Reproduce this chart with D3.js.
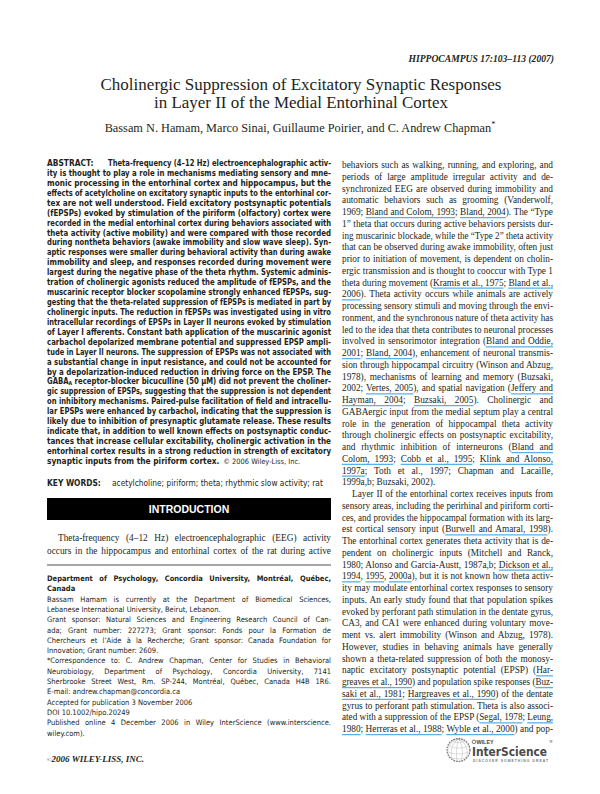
<!DOCTYPE html>
<html>
<head>
<meta charset="utf-8">
<script src="https://cdn.jsdelivr.net/npm/d3@7"></script>
<style>
  body { margin: 0; background: #fff; }
  svg { display: block; }
</style>
</head>
<body>
<svg id="page"></svg>
<script>
// ---- text content, line by line as set on the page ----
const headerText = "HIPPOCAMPUS 17:103–113 (2007)";

const titleLines = [
  "Cholinergic Suppression of Excitatory Synaptic Responses",
  "in Layer II of the Medial Entorhinal Cortex"
];

const authorLine = "Bassam N. Hamam, Marco Sinai, Guillaume Poirier, and C. Andrew Chapman^{*}";

const abstractLabel = "ABSTRACT:";
const abstractLines = [
  "Theta-frequency (4–12 Hz) electroencephalographic activ-",
  "ity is thought to play a role in mechanisms mediating sensory and mne-",
  "monic processing in the entorhinal cortex and hippocampus, but the",
  "effects of acetylcholine on excitatory synaptic inputs to the entorhinal cor-",
  "tex are not well understood. Field excitatory postsynaptic potentials",
  "(fEPSPs) evoked by stimulation of the piriform (olfactory) cortex were",
  "recorded in the medial entorhinal cortex during behaviors associated with",
  "theta activity (active mobility) and were compared with those recorded",
  "during nontheta behaviors (awake immobility and slow wave sleep). Syn-",
  "aptic responses were smaller during behavioral activity than during awake",
  "immobility and sleep, and responses recorded during movement were",
  "largest during the negative phase of the theta rhythm. Systemic adminis-",
  "tration of cholinergic agonists reduced the amplitude of fEPSPs, and the",
  "muscarinic receptor blocker scopolamine strongly enhanced fEPSPs, sug-",
  "gesting that the theta-related suppression of fEPSPs is mediated in part by",
  "cholinergic inputs. The reduction in fEPSPs was investigated using in vitro",
  "intracellular recordings of EPSPs in Layer II neurons evoked by stimulation",
  "of Layer I afferents. Constant bath application of the muscarinic agonist",
  "carbachol depolarized membrane potential and suppressed EPSP ampli-",
  "tude in Layer II neurons. The suppression of EPSPs was not associated with",
  "a substantial change in input resistance, and could not be accounted for",
  "by a depolarization-induced reduction in driving force on the EPSP. The",
  "GABA_{A} receptor-blocker bicuculline (50 μM) did not prevent the choliner-",
  "gic suppression of EPSPs, suggesting that the suppression is not dependent",
  "on inhibitory mechanisms. Paired-pulse facilitation of field and intracellu-",
  "lar EPSPs were enhanced by carbachol, indicating that the suppression is",
  "likely due to inhibition of presynaptic glutamate release. These results",
  "indicate that, in addition to well known effects on postsynaptic conduc-",
  "tances that increase cellular excitability, cholinergic activation in the",
  "entorhinal cortex results in a strong reduction in strength of excitatory",
  "synaptic inputs from the piriform cortex."
];
const abstractRagged = [30];
const abstractCopyright = "© 2006 Wiley-Liss, Inc.";

const keyLabel = "KEY WORDS:";
const keyWords = "acetylcholine; piriform; theta; rhythmic slow activity; rat";

const sectionTitle = "INTRODUCTION";

const introLeftLines = [
  "Theta-frequency (4–12 Hz) electroencephalographic (EEG) activity",
  "occurs in the hippocampus and entorhinal cortex of the rat during active"
];

const introRightLines = [
  "behaviors such as walking, running, and exploring, and",
  "periods of large amplitude irregular activity and de-",
  "synchronized EEG are observed during immobility and",
  "automatic behaviors such as grooming (Vanderwolf,",
  "1969; Bland and Colom, 1993; Bland, 2004). The “Type",
  "1” theta that occurs during active behaviors persists dur-",
  "ing muscarinic blockade, while the “Type 2” theta activity",
  "that can be observed during awake immobility, often just",
  "prior to initiation of movement, is dependent on cholin-",
  "ergic transmission and is thought to cooccur with Type 1",
  "theta during movement (Kramis et al., 1975; Bland et al.,",
  "2006). Theta activity occurs while animals are actively",
  "processing sensory stimuli and moving through the envi-",
  "ronment, and the synchronous nature of theta activity has",
  "led to the idea that theta contributes to neuronal processes",
  "involved in sensorimotor integration (Bland and Oddie,",
  "2001; Bland, 2004), enhancement of neuronal transmis-",
  "sion through hippocampal circuitry (Winson and Abzug,",
  "1978), mechanisms of learning and memory (Buzsaki,",
  "2002; Vertes, 2005), and spatial navigation (Jeffery and",
  "Hayman, 2004; Buzsaki, 2005). Cholinergic and",
  "GABAergic input from the medial septum play a central",
  "role in the generation of hippocampal theta activity",
  "through cholinergic effects on postsynaptic excitability,",
  "and rhythmic inhibition of interneurons (Bland and",
  "Colom, 1993; Cobb et al., 1995; Klink and Alonso,",
  "1997a; Toth et al., 1997; Chapman and Lacaille,",
  "1999a,b; Buzsaki, 2002).",
  "Layer II of the entorhinal cortex receives inputs from",
  "sensory areas, including the perirhinal and piriform corti-",
  "ces, and provides the hippocampal formation with its larg-",
  "est cortical sensory input (Burwell and Amaral, 1998).",
  "The entorhinal cortex generates theta activity that is de-",
  "pendent on cholinergic inputs (Mitchell and Ranck,",
  "1980; Alonso and Garcia-Austt, 1987a,b; Dickson et al.,",
  "1994, 1995, 2000a), but it is not known how theta activ-",
  "ity may modulate entorhinal cortex responses to sensory",
  "inputs. An early study found that that population spikes",
  "evoked by perforant path stimulation in the dentate gyrus,",
  "CA3, and CA1 were enhanced during voluntary move-",
  "ment vs. alert immobility (Winson and Abzug, 1978).",
  "However, studies in behaving animals have generally",
  "shown a theta-related suppression of both the monosy-",
  "naptic excitatory postsynaptic potential (EPSP) (Har-",
  "greaves et al., 1990) and population spike responses (Buz-",
  "saki et al., 1981; Hargreaves et al., 1990) of the dentate",
  "gyrus to perforant path stimulation. Theta is also associ-",
  "ated with a suppression of the EPSP (Segal, 1978; Leung,",
  "1980; Herreras et al., 1988; Wyble et al., 2000) and pop-"
];
const introRightRagged = [27];
const introRightIndent = [28];

// linked citations: [line index, text]
const citationLinks = [
  [4, "Bland and Colom, 1993"], [4, "Bland, 2004"],
  [10, "Kramis et al., 1975"], [10, "Bland et al.,"], [11, "2006"],
  [15, "Bland and Oddie,"], [16, "2001"], [16, "Bland, 2004"],
  [19, "Vertes, 2005"], [19, "Jeffery and"], [20, "Hayman, 2004"], [20, "Buzsaki, 2005"],
  [24, "Bland and"], [25, "Colom, 1993"], [25, "Cobb et al., 1995"], [25, "Klink and Alonso,"], [26, "1997a"],
  [31, "Burwell and Amaral, 1998"],
  [34, "Dickson et al.,"], [35, "1994"], [35, "1995"], [35, "2000a"],
  [43, "Har-"], [44, "greaves et al., 1990"], [44, "Buz-"],
  [45, "saki et al., 1981"], [45, "Hargreaves et al., 1990"],
  [47, "Segal, 1978"], [47, "Leung,"],
  [48, "1980"], [48, "Herreras et al., 1988"], [48, "Wyble et al., 2000"]
];

const footLines = [
  "Department of Psychology, Concordia University, Montréal, Québec,",
  "Canada",
  "Bassam Hamam is currently at the Department of Biomedical Sciences,",
  "Lebanese International University, Beirut, Lebanon.",
  "Grant sponsor: Natural Sciences and Engineering Research Council of Can-",
  "ada; Grant number: 227273; Grant sponsor: Fonds pour la Formation de",
  "Chercheurs et l’Aide à la Recherche; Grant sponsor: Canada Foundation for",
  "Innovation; Grant number: 2609.",
  "*Correspondence to: C. Andrew Chapman, Center for Studies in Behavioral",
  "Neurobiology, Department of Psychology, Concordia University, 7141",
  "Sherbrooke Street West, Rm. SP-244, Montréal, Québec, Canada H4B 1R6.",
  "E-mail: andrew.chapman@concordia.ca",
  "Accepted for publication 3 November 2006",
  "DOI 10.1002/hipo.20249",
  "Published online 4 December 2006 in Wiley InterScience (www.interscience.",
  "wiley.com)."
];
const footBold = [0, 1];
const footRagged = [1, 3, 7, 11, 12, 13, 15];

const copyrightText = "2006 WILEY-LISS, INC.";
const logoTexts = ["WILEY", "InterScience", "DISCOVER SOMETHING GREAT"];

// ---- page layout ----
const W = 600, H = 794;
const ink = "#231f20";
const linkBlue = "#5aafe6";
const serif = "'Liberation Serif', 'DejaVu Serif', serif";
const narrowSans = "'Liberation Sans Narrow', 'DejaVu Sans Condensed', sans-serif";
const condSans = "'DejaVu Sans Condensed', 'DejaVu Sans', sans-serif";
const colL = [47, 331], colR = [342, 553];

const svg = d3.select("#page").attr("width", W).attr("height", H);
svg.append("rect").attr("width", W).attr("height", H).attr("fill", "#fff");

const plain = s => s.replace(/[_^]\{([^}]*)\}/g, "$1");

function addRich(t, s) {
  s.split(/([_^]\{[^}]*\})/).forEach(p => {
    if (!p) return;
    const m = p.match(/^([_^])\{(.*)\}$/);
    if (!m) { t.append("tspan").text(p); return; }
    const ts = t.append("tspan").text(m[2]).attr("font-size", "0.68em");
    ts.attr("baseline-shift", m[1] === "_" ? "-0.2em" : "0.6em");
  });
}

// justify lines: stretch word spaces, or squeeze a line that is too long
function justify(texts, widths, ragged) {
  texts.nodes().forEach((node, i) => {
    if (ragged.includes(i)) return;
    const nat = node.getComputedTextLength();
    const spaces = (node.textContent.match(/ /g) || []).length;
    if (nat <= widths[i] && spaces > 0) {
      node.style.wordSpacing = ((widths[i] - nat) / spaces) + "px";
    } else {
      node.setAttribute("textLength", widths[i]);
      node.setAttribute("lengthAdjust", "spacingAndGlyphs");
    }
  });
}

function drawBlock(o) {
  const n = o.lines.length;
  const y = d3.scaleLinear().domain([0, n - 1]).range([o.y0, o.y0 + o.step * (n - 1)]);
  const g = svg.append("g")
    .attr("font-family", o.font)
    .attr("font-size", o.size)
    .attr("fill", ink);
  const indent = o.indent || [];
  const startX = i => (i === 0 && o.firstX ? o.firstX : o.x0) + (indent.includes(i) ? o.indentW : 0);
  const texts = g.selectAll("text")
    .data(o.lines)
    .join("text")
    .attr("x", (d, i) => startX(i))
    .attr("y", (d, i) => y(i))
    .attr("font-weight", (d, i) => (o.bold && o.bold.includes(i)) || o.allBold ? "bold" : "normal")
    .each(function (d) { addRich(d3.select(this), d); });
  justify(texts, o.lines.map((d, i) => o.x1 - startX(i)), o.ragged || []);
  return { g, texts, y };
}

// header
svg.append("text")
  .attr("x", 554).attr("y", 62)
  .attr("text-anchor", "end")
  .attr("font-family", serif).attr("font-size", 9.6)
  .attr("font-weight", "bold").attr("font-style", "italic")
  .attr("fill", ink)
  .text(headerText);

// title
const titleY = d3.scaleLinear().domain([0, 1]).range([89.5, 107.5]);
const titleW = [401, 294];
svg.append("g")
  .attr("font-family", serif).attr("font-size", 15.8).attr("fill", ink)
  .selectAll("text").data(titleLines).join("text")
  .attr("x", (d, i) => 301 - titleW[i] / 2).attr("y", (d, i) => titleY(i))
  .attr("textLength", (d, i) => titleW[i])
  .attr("lengthAdjust", "spacingAndGlyphs")
  .text(d => d);

// authors
svg.append("text")
  .attr("x", 300).attr("y", 132)
  .attr("text-anchor", "middle")
  .attr("font-family", serif).attr("font-size", 12.3).attr("fill", ink)
  .call(t => addRich(t, authorLine));

// abstract
svg.append("text")
  .attr("x", colL[0]).attr("y", 166)
  .attr("font-family", narrowSans).attr("font-size", 8.3).attr("font-weight", "bold")
  .attr("fill", ink)
  .text(abstractLabel);

const abs = drawBlock({
  lines: abstractLines, x0: colL[0], firstX: 108, x1: colL[1],
  y0: 166, step: 9.93, font: narrowSans, size: 8.3, allBold: true,
  ragged: abstractRagged
});
const lastAbs = abs.texts.nodes()[abstractLines.length - 1];
abs.g.append("text")
  .attr("x", colL[0] + lastAbs.getComputedTextLength() + 4)
  .attr("y", abs.y(abstractLines.length - 1))
  .attr("font-size", 7.4)
  .text(abstractCopyright);

// key words
svg.append("text")
  .attr("x", colL[0]).attr("y", 486)
  .attr("font-family", narrowSans).attr("font-size", 8.3).attr("font-weight", "bold")
  .attr("fill", ink).text(keyLabel);
svg.append("text")
  .attr("x", 112).attr("y", 486)
  .attr("font-family", narrowSans).attr("font-size", 8.3)
  .attr("fill", ink).text(keyWords);

// section bar
svg.append("rect")
  .attr("x", colL[0]).attr("y", 498)
  .attr("width", colL[1] - colL[0]).attr("height", 22)
  .attr("fill", "#000");
svg.append("text")
  .attr("x", (colL[0] + colL[1]) / 2).attr("y", 513)
  .attr("text-anchor", "middle")
  .attr("font-family", "'Liberation Sans', Arial, sans-serif")
  .attr("font-size", 10.5).attr("font-weight", "bold")
  .attr("fill", "#fff").text(sectionTitle);

// introduction, left column
drawBlock({
  lines: introLeftLines, x0: colL[0], x1: colL[1],
  y0: 541, step: 12.6, font: serif, size: 9.3,
  indent: [0], indentW: 11
});

// introduction, right column
const right = drawBlock({
  lines: introRightLines, x0: colR[0], x1: colR[1],
  y0: 168, step: 11.75, font: serif, size: 9.3,
  ragged: introRightRagged, indent: introRightIndent, indentW: 10
});

// citation underlines
const rightNodes = right.texts.nodes();
svg.append("g")
  .attr("stroke", linkBlue).attr("stroke-width", 1.3)
  .selectAll("line")
  .data(citationLinks)
  .join("line")
  .each(function ([i, str]) {
    const node = rightNodes[i];
    const idx = plain(introRightLines[i]).indexOf(str);
    const xs = node.getStartPositionOfChar(idx).x;
    const xe = node.getEndPositionOfChar(idx + str.length - 1).x;
    d3.select(this)
      .attr("x1", xs).attr("x2", xe)
      .attr("y1", right.y(i) + 2.6).attr("y2", right.y(i) + 2.6);
  });

// footnote rule
svg.append("line")
  .attr("x1", colL[0]).attr("x2", colL[1])
  .attr("y1", 565).attr("y2", 565)
  .attr("stroke", "#8a8a8a").attr("stroke-width", 1.4);

// footnotes
drawBlock({
  lines: footLines, x0: colL[0], x1: colL[1],
  y0: 581, step: 10.3, font: condSans, size: 7.5,
  bold: footBold, ragged: footRagged
});

// copyright
const copy = svg.append("text")
  .attr("x", colL[0]).attr("y", 762)
  .attr("font-family", serif).attr("fill", ink);
copy.append("tspan").attr("font-size", 6).text("©");
copy.append("tspan").attr("font-size", 9).attr("font-weight", "bold")
  .attr("font-style", "italic").text(copyrightText);

// Wiley InterScience logo
const logo = svg.append("g");
const globe = d3.geoOrthographic().scale(11.5).translate([458.5, 750]).rotate([20, -20]);
const gpath = d3.geoPath(globe);
logo.append("path").datum(d3.geoGraticule().step([30, 30])())
  .attr("d", gpath).attr("fill", "none").attr("stroke", "#b5b5b5").attr("stroke-width", 0.5);
logo.append("circle").attr("cx", 458.5).attr("cy", 750).attr("r", 11.5)
  .attr("fill", "none").attr("stroke", "#777").attr("stroke-width", 1.2)
  .attr("stroke-dasharray", "1.5 1.2");
logo.append("circle").attr("cx", 474).attr("cy", 741.8).attr("r", 1.8)
  .attr("fill", "none").attr("stroke", "#444").attr("stroke-width", 0.7);
logo.append("text").attr("x", 476.5).attr("y", 743.8)
  .attr("font-family", "'Liberation Sans', sans-serif").attr("font-size", 5.4)
  .attr("font-weight", "bold").attr("fill", "#444").text(logoTexts[0]);
logo.append("text").attr("x", 472).attr("y", 756)
  .attr("font-family", "'DejaVu Sans', sans-serif").attr("font-size", 12.5)
  .attr("font-weight", "bold").attr("fill", "#4a4a4a")
  .attr("textLength", 75).attr("lengthAdjust", "spacingAndGlyphs")
  .text(logoTexts[1]);
logo.append("text").attr("x", 549).attr("y", 743)
  .attr("font-family", "'DejaVu Sans', sans-serif").attr("font-size", 4)
  .attr("fill", "#4a4a4a").text("®");
logo.append("text").attr("x", 473).attr("y", 762)
  .attr("font-family", "'Liberation Sans', sans-serif").attr("font-size", 3.4)
  .attr("font-weight", "bold").attr("fill", "#777")
  .attr("textLength", 75).attr("lengthAdjust", "spacing")
  .text(logoTexts[2]);
</script>
</body>
</html>
